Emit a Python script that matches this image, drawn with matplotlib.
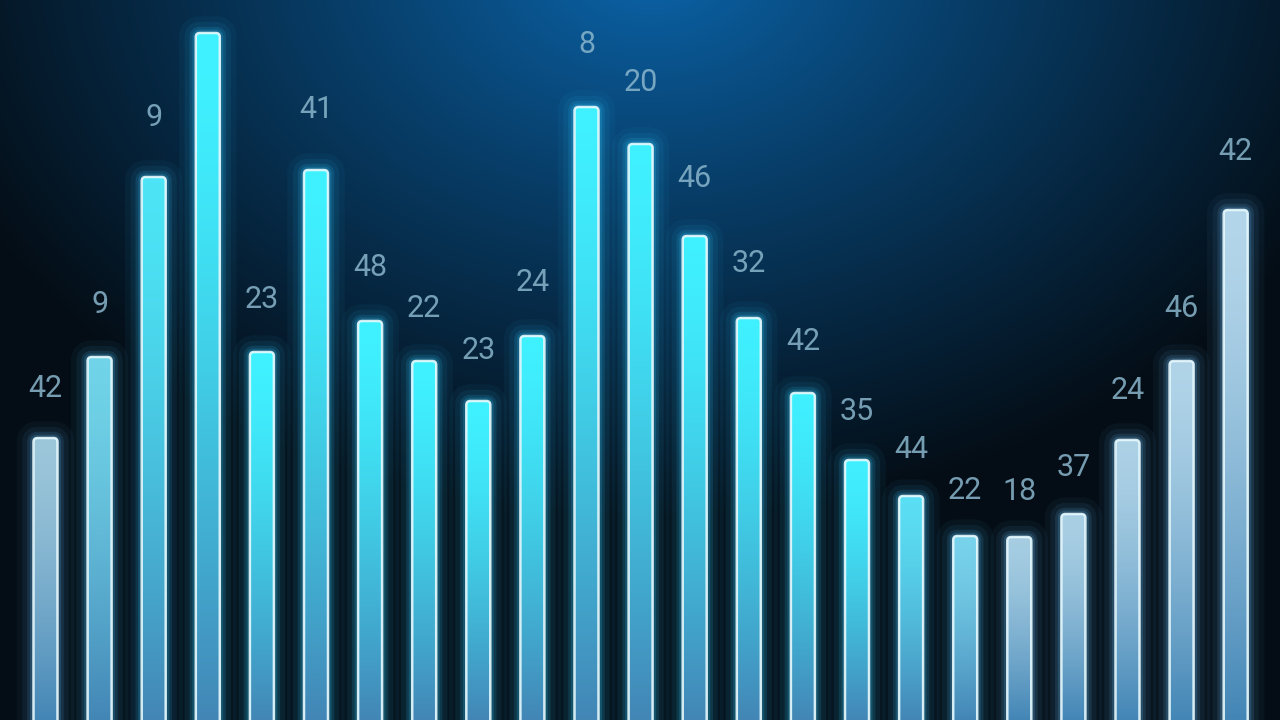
import numpy as np
import matplotlib.pyplot as plt
from matplotlib.patches import FancyBboxPatch
from matplotlib.colors import LinearSegmentedColormap, to_rgb

# bar heights (pixels above the bottom edge) and the numbers printed above them
heights = [282, 363, 543, 687, 368, 550, 399, 359, 319, 384, 613, 576,
           484, 402, 327, 260, 224, 184, 183, 206, 280, 359, 510]
labels = ["42", "9", "9", "", "23", "41", "48", "22", "23", "24", "8", "20",
          "46", "32", "42", "35", "44", "22", "18", "37", "24", "46", "42"]

n = len(heights)
x = np.arange(n)
step = 54.1          # pixels between bar centres
bw = 24 / step       # bar width in x units

fig = plt.figure(figsize=(12.8, 7.2), dpi=100)
ax = fig.add_axes([0, 0, 1, 1])
x0 = -45.5 / step
x1 = x0 + 1280 / step
ax.set_xlim(x0, x1)
ax.set_ylim(0, 720)
ax.axis('off')

# background: blue glow from the top centre fading to near black
yy, xx = np.mgrid[0:720, 0:1280]
d = np.sqrt(((xx - 650) / 760.0) ** 2 + ((yy + 40) / 560.0) ** 2)
t = np.clip(d, 0, 1) ** 0.9
c_in = np.array(to_rgb('#0b66ad'))
c_out = np.array(to_rgb('#040d15'))
bg = c_in[None, None, :] * (1 - t[..., None]) + c_out[None, None, :] * t[..., None]
ax.imshow(bg, extent=[x0, x1, 0, 720], aspect='auto', zorder=0, origin='upper')

# bar colour across the row: pale at the ends, cyan in the middle
cmap = LinearSegmentedColormap.from_list(
    'bars', [(0.0, '#9cc6da'), (0.07, '#55dcf0'), (0.12, '#3ff2ff'),
             (0.68, '#3ff0ff'), (0.76, '#6cd4ee'), (0.82, '#a6cde2'),
             (1.0, '#b4d6ea')])
bottom_col = np.array(to_rgb('#4386b6'))
glow_blue = np.array(to_rgb('#1a90ea'))
rs = f"round,pad=0,rounding_size={4/step}"

for i in range(n):
    h = heights[i]
    col = np.array(cmap(i / (n - 1))[:3])
    gcol = 0.5 * col + 0.5 * glow_blue
    # glow
    for lw, a in [(24, 0.05), (16, 0.08), (9, 0.14), (5, 0.2)]:
        g = FancyBboxPatch((x[i] - bw / 2, -20), bw, h + 20, boxstyle=rs,
                           mutation_aspect=step, facecolor='none',
                           edgecolor=gcol, lw=lw, alpha=a, zorder=2)
        ax.add_patch(g)
    body = FancyBboxPatch((x[i] - bw / 2, -20), bw, h + 20, boxstyle=rs,
                          mutation_aspect=step, facecolor='none',
                          edgecolor='none', zorder=3)
    ax.add_patch(body)
    s = np.linspace(0, 1, 200) ** 1.5
    grad = col[None, :] * (1 - s[:, None]) + bottom_col[None, :] * s[:, None]
    im = ax.imshow(grad[:, None, :], extent=[x[i] - bw / 2, x[i] + bw / 2, 0, h],
                   aspect='auto', origin='upper', zorder=3)
    im.set_clip_path(body)
    edge = FancyBboxPatch((x[i] - bw / 2, -20), bw, h + 20, boxstyle=rs,
                          mutation_aspect=step, facecolor='none',
                          edgecolor='#e8fbff', lw=1.8, alpha=0.9, zorder=4)
    ax.add_patch(edge)
    if labels[i]:
        ax.text(x[i], h + 38 + 0.04 * h, labels[i], ha='center', va='center',
                fontsize=22, family='Roboto',
                color='#8ab6cc', alpha=0.85, zorder=5)

fig.savefig('out.png', dpi=100)
